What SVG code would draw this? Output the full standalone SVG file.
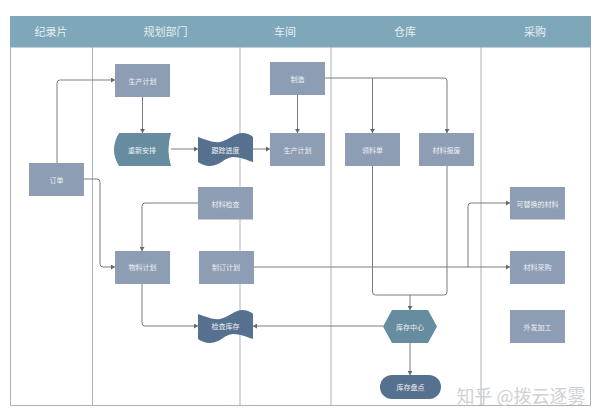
<svg xmlns="http://www.w3.org/2000/svg" width="600" height="418" viewBox="0 0 600 418">
<style>
text{font-family:"Noto Sans CJK SC","Liberation Sans",sans-serif;text-anchor:middle;dominant-baseline:central;fill:#eef1f4}
.h{font-size:11px;fill:#e6eef2}
.t{font-size:7px}
.n{fill:#8d9db3}
.lane{fill:none;stroke:#a9b3bb;stroke-width:1}
.c{fill:none;stroke:#737e84;stroke-width:1;marker-end:url(#a)}
.p{fill:none;stroke:#737e84;stroke-width:1}
</style>
<defs><marker id="a" markerUnits="userSpaceOnUse" markerWidth="5" markerHeight="5" refX="4" refY="2.5" orient="auto"><path d="M0 0L4 2.5L0 5Z" fill="#5f6a70"/></marker></defs>
<rect width="600" height="418" fill="#fff"/>
<g id="lanes">
<rect x="10" y="16" width="581" height="31.500" fill="#7ea7b9"/>
<path class="lane" d="M10.500 47V405.500H590.500V47M92.500 47V405.500M240 47V405.500M331 47V405.500M481 47V405.500"/>
<text class="h" x="51" y="30.500">纪录片</text>
<text class="h" x="165.500" y="30.500">规划部门</text>
<text class="h" x="285" y="30.500">车间</text>
<text class="h" x="405" y="30.500">仓库</text>
<text class="h" x="535" y="30.500">采购</text>
</g>
<g id="connectors">
<path class="c" d="M57 163V83Q57 80 60 80H115"/>
<path class="c" d="M84 179H97Q100 179 100 182V264Q100 267 103 267H115"/>
<path class="c" d="M142.500 97V133"/>
<path class="c" d="M171 149H198"/>
<path class="c" d="M253 149H270"/>
<path class="c" d="M297.500 95V133"/>
<path class="c" d="M325 78H444Q447 78 447 81V133"/>
<path class="c" d="M372.500 78V133"/>
<path class="c" d="M198 203H145Q142 203 142 206V251"/>
<path class="c" d="M142 284V323Q142 326 145 326H198"/>
<path class="c" d="M383 326H253"/>
<path class="c" d="M254 267H510"/>
<path class="c" d="M468 267V206Q468 203 471 203H510"/>
<path class="p" d="M372.500 166V292Q372.500 295 375.500 295H444Q447 295 447 292V166"/>
<path class="c" d="M410 295V310"/>
<path class="c" d="M410 343V375"/>
</g>
<g id="n1"><rect class="n" x="115" y="64" width="55" height="33"/><text class="t" x="142.500" y="80.500">生产计划</text></g>
<g id="n2"><path fill="#668ca0" d="M119 133H171Q166 150 171 166H119Q109 150 119 133Z"/><text class="t" x="142" y="149.500">重新安排</text></g>
<g id="n3"><path fill="#56708f" d="M198 137C207 140 213 143 220 142C229 140 235 133 242 133C247 133 251 135 253 137V162C247 160 240 157 233 157C225 157 220 166 210 166C205 166 201 164 198 162Z"/><text class="t" x="225.500" y="149.500">跟踪进度</text></g>
<g id="n4"><rect class="n" x="270" y="133" width="55" height="33"/><text class="t" x="297.500" y="149.500">生产计划</text></g>
<g id="n5"><rect class="n" x="270" y="62" width="55" height="33"/><text class="t" x="297.500" y="78.500">制造</text></g>
<g id="n6"><rect class="n" x="345" y="133" width="55" height="33"/><text class="t" x="372.500" y="149.500">领料单</text></g>
<g id="n7"><rect class="n" x="419" y="133" width="55" height="33"/><text class="t" x="446.500" y="149.500">材料报废</text></g>
<g id="n8"><rect class="n" x="29" y="163" width="55" height="33"/><text class="t" x="56.500" y="179.500">订单</text></g>
<g id="n9"><rect class="n" x="198" y="187" width="55" height="32.500"/><text class="t" x="225.500" y="203.500">材料检查</text></g>
<g id="n10"><rect class="n" x="115" y="251" width="55" height="33"/><text class="t" x="142.500" y="267">物料计划</text></g>
<g id="n11"><rect class="n" x="199" y="251" width="55" height="33"/><text class="t" x="226" y="267">制订计划</text></g>
<g id="n12"><path fill="#56708f" d="M198 314C207 317 213 320 220 319C229 317 235 310 242 310C247 310 251 312 253 314V339C247 337 240 334 233 334C225 334 220 343 210 343C205 343 201 341 198 339Z"/><text class="t" x="225.500" y="326">检查库存</text></g>
<g id="n13"><path fill="#668ca0" d="M392 310H428L437 326.500L428 343H392L383 326.500Z"/><text class="t" x="410" y="326.500">库存中心</text></g>
<g id="n14"><rect fill="#56708f" x="380" y="375" width="61" height="24" rx="12"/><text class="t" x="410.500" y="387">库存盘点</text></g>
<g id="n15"><rect class="n" x="510" y="187" width="55" height="32.500"/><text class="t" x="537.500" y="203.500">可替换的材料</text></g>
<g id="n16"><rect class="n" x="510" y="251" width="55" height="33"/><text class="t" x="537.500" y="267">材料采购</text></g>
<g id="n17"><rect class="n" x="510" y="310" width="55" height="33"/><text class="t" x="537.500" y="326.500">外发加工</text></g>
<text x="521" y="394.500" style="font-size:18px;fill:#c9cdd1;opacity:.9">知乎 @拨云逐雾</text>
</svg>
